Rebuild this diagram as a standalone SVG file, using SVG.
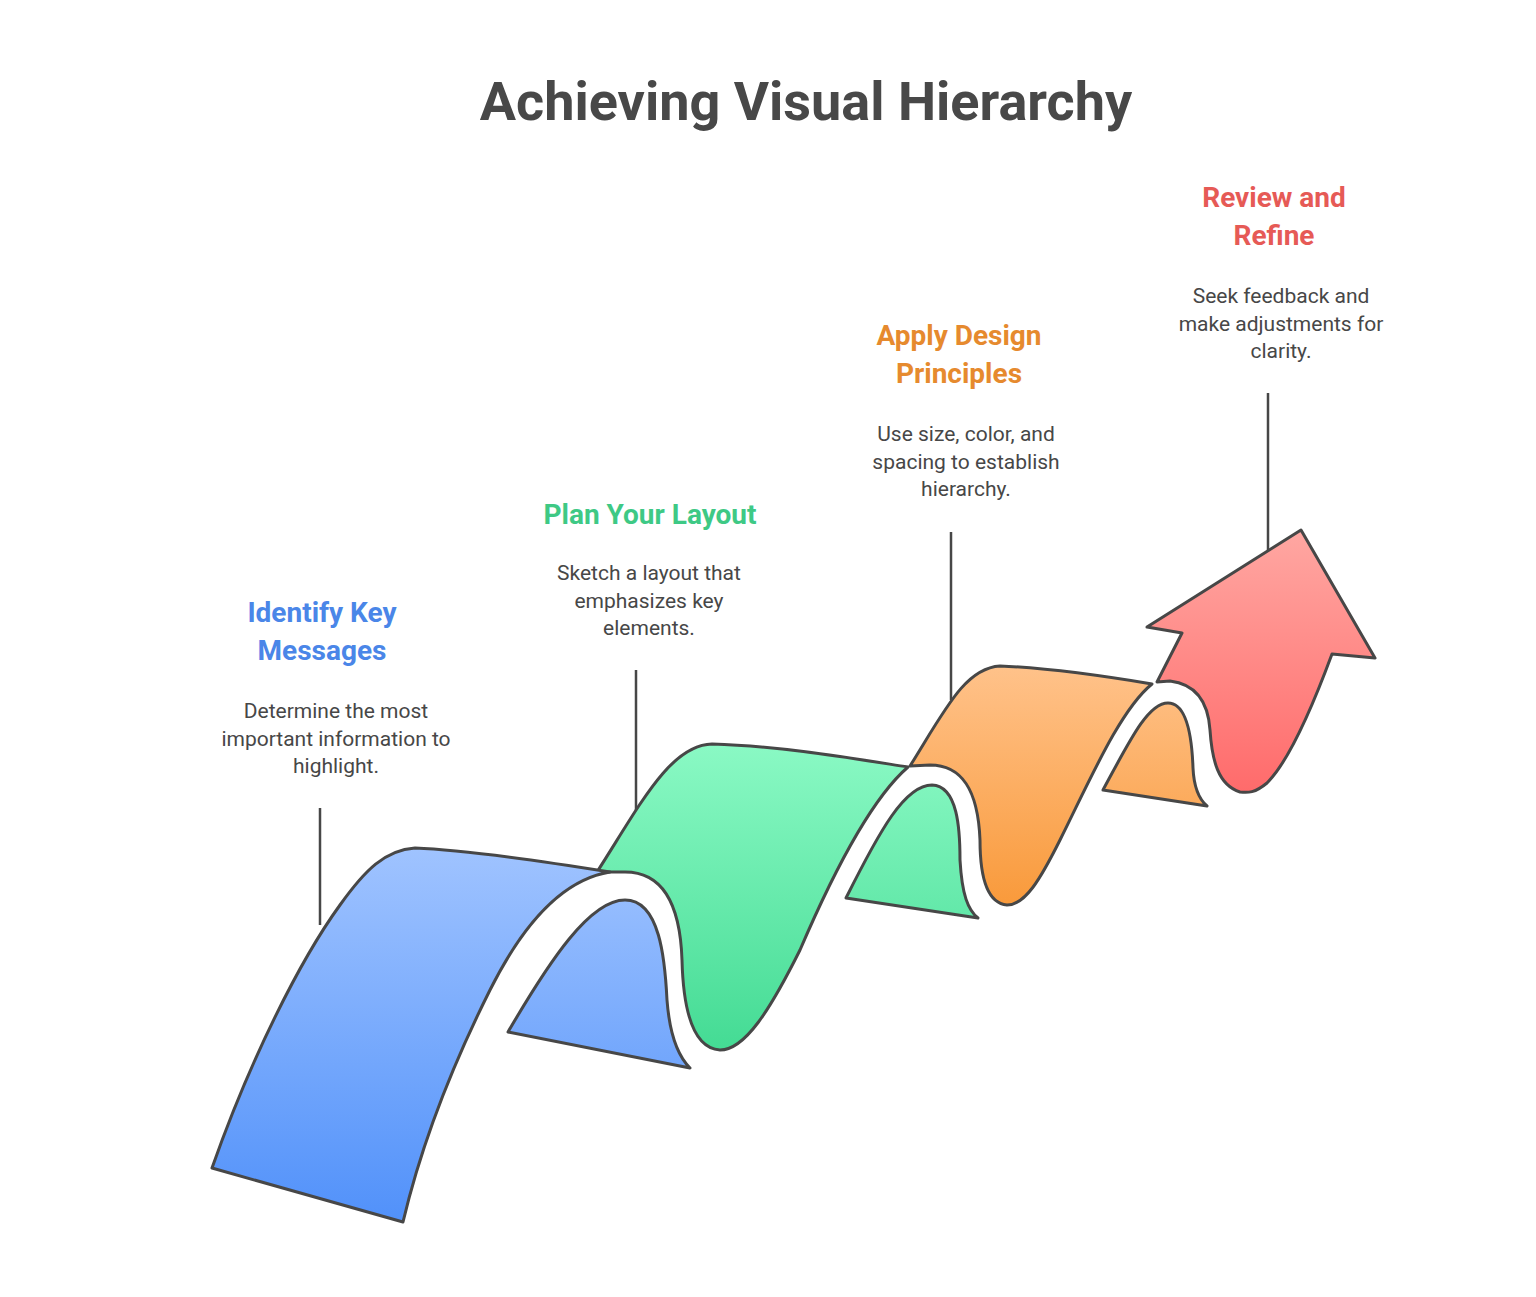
<svg xmlns="http://www.w3.org/2000/svg" width="1536" height="1297" viewBox="0 0 1536 1297">
<style>
.s{stroke:#474747;stroke-width:3;stroke-linejoin:round}
.c{stroke:#474747;stroke-width:2.5;fill:none}
text{font-family:Roboto,"Liberation Sans",sans-serif;text-anchor:middle}
.t{font-size:28px;font-weight:bold}
.d{font-size:21px;fill:#474747}
</style>
<defs>
<linearGradient id="gb" gradientUnits="userSpaceOnUse" x1="0" y1="850" x2="0" y2="1222"><stop offset="0" stop-color="#9FC3FF"/><stop offset="1" stop-color="#5191FA"/></linearGradient>
<linearGradient id="gg" gradientUnits="userSpaceOnUse" x1="0" y1="745" x2="0" y2="1050"><stop offset="0" stop-color="#8AF9C4"/><stop offset="1" stop-color="#44DB94"/></linearGradient>
<linearGradient id="go" gradientUnits="userSpaceOnUse" x1="0" y1="666" x2="0" y2="905"><stop offset="0" stop-color="#FFC28A"/><stop offset="1" stop-color="#F99A3B"/></linearGradient>
<linearGradient id="gr" gradientUnits="userSpaceOnUse" x1="0" y1="530" x2="0" y2="792"><stop offset="0" stop-color="#FFA7A2"/><stop offset="1" stop-color="#FF6B6B"/></linearGradient>
</defs>
<rect width="1536" height="1297" fill="#fff"/>
<text x="806" y="120" style="font-size:54px;font-weight:bold;fill:#484848">Achieving Visual Hierarchy</text>
<g id="connectors">
<line class="c" x1="320" y1="808" x2="320" y2="925"/>
<line class="c" x1="636" y1="670" x2="636" y2="810"/>
<line class="c" x1="951" y1="532" x2="951" y2="700"/>
<line class="c" x1="1268" y1="393" x2="1268" y2="550"/>
</g>
<g id="step4">
<path class="s" fill="url(#gr)" d="M1157,682 L1182,633 L1147,627 L1301,530 L1375,658 L1332,654 C1315,700 1290,760 1267,783 C1255,793 1248,793 1240,792 C1218,785 1212,760 1210,730 C1208,700 1195,684 1170,681 Z"/>
<text class="t" x="1274" y="207" fill="#E65A56">Review and</text>
<text class="t" x="1274" y="245" fill="#E65A56">Refine</text>
<text class="d" x="1281" y="303">Seek feedback and</text>
<text class="d" x="1281" y="331">make adjustments for</text>
<text class="d" x="1281" y="358">clarity.</text>
</g>
<g id="step3">
<path class="s" fill="url(#go)" d="M1103,790 C1130,740 1148,703 1168,703 C1188,703 1192,740 1193,768 C1194,790 1200,800 1207,806 Z"/>
<path class="s" fill="url(#go)" d="M910,766 C945,710 965,668 1000,666 C1050,668 1110,677 1152,684 C1120,710 1090,780 1060,840 C1040,880 1025,905 1007,905 C985,903 980,870 980,840 C978,790 962,765 930,765 Z"/>
<text class="t" x="959" y="345" fill="#E68A2E">Apply Design</text>
<text class="t" x="959" y="383" fill="#E68A2E">Principles</text>
<text class="d" x="966" y="441">Use size, color, and</text>
<text class="d" x="966" y="469">spacing to establish</text>
<text class="d" x="966" y="496">hierarchy.</text>
</g>
<g id="step2">
<path class="s" fill="url(#gg)" d="M846,898 C880,830 905,785 932,785 C958,786 960,830 960,860 C962,895 968,910 978,918 Z"/>
<path class="s" fill="url(#gg)" d="M597,872 C640,805 670,745 712,744 C780,746 850,758 908,767 C870,800 830,880 800,950 C770,1010 745,1050 720,1050 C690,1048 683,1000 682,960 C680,900 660,872 625,872 Z"/>
<text class="t" x="650" y="524" fill="#3EC985">Plan Your Layout</text>
<text class="d" x="649" y="580">Sketch a layout that</text>
<text class="d" x="649" y="608">emphasizes key</text>
<text class="d" x="649" y="635">elements.</text>
</g>
<g id="step1">
<path class="s" fill="url(#gb)" d="M508,1032 C550,960 590,900 625,900 C660,900 665,960 667,1000 C670,1040 680,1058 690,1068 Z"/>
<path class="s" fill="url(#gb)" d="M212,1168 C250,1060 300,960 340,905 C365,870 385,850 415,848 C470,850 560,864 610,872 C560,880 520,930 490,990 C450,1070 420,1150 403,1222 Z"/>
<text class="t" x="322" y="622" fill="#4A86E8">Identify Key</text>
<text class="t" x="322" y="660" fill="#4A86E8">Messages</text>
<text class="d" x="336" y="718">Determine the most</text>
<text class="d" x="336" y="746">important information to</text>
<text class="d" x="336" y="773">highlight.</text>
</g>
</svg>
